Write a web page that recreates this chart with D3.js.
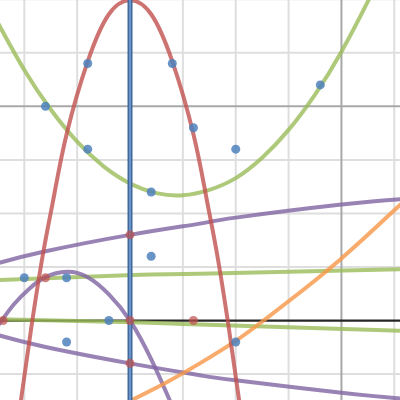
<!DOCTYPE html>
<html><head><meta charset="utf-8">
<script src="https://cdn.jsdelivr.net/npm/d3@7"></script>
<style>html,body{margin:0;padding:0;background:#fff;overflow:hidden}svg{display:block}</style>
</head><body>
<svg id="c" width="400" height="400"></svg>
<script>
// Grid ticks
const minorX = [-1.0,-0.5,0.5,1.0,1.5,2.5];
const majorX = [2.0];
const minorY = [3.0,2.5,1.5,1.0,0.5,-0.5];
const majorY = [2.0];

// Red curve
const redX = [-1.04,-0.93,-0.82,-0.72,-0.6,-0.4,-0.2,0,0.2,0.4,0.6,0.72,0.82,0.93,1.04];
const redY = [-0.80,-0.04,0.64,1.16,1.74,2.42,2.86,2.99,2.86,2.42,1.74,1.16,0.64,-0.04,-0.80];

// Big green curve
const greenX = [-1.25,-1.0,-0.75,-0.5,-0.25,0,0.25,0.5,0.75,1.0,1.25,1.5,1.75,2.0,2.25,2.35];
const greenY = [2.78,2.34,1.97,1.67,1.44,1.28,1.19,1.17,1.22,1.33,1.52,1.78,2.11,2.51,2.98,3.19];

// Green near-horizontal lines
const green2X = [-1.25,0.03,0.66,2.56];
const green2Y = [0.378,0.425,0.438,0.48];
const green3X = [-1.25,0.03,0.66,2.56];
const green3Y = [0.012,-0.015,-0.037,-0.095];

// Purple curves
const purpleUpX = [-1.25,-0.82,0,0.66,1.0,2.0,2.56];
const purpleUpY = [0.535,0.642,0.80,0.905,0.961,1.083,1.133];
const purpleLoX = [-1.25,-0.82,0,0.66,1.0,2.0,2.56];
const purpleLoY = [-0.135,-0.242,-0.40,-0.511,-0.558,-0.675,-0.728];
const purpleArchX = [-1.25,-1.1,-0.95,-0.8,-0.6,-0.4,-0.2,0,0.2,0.4];
const purpleArchY = [-0.05,0.15,0.30,0.405,0.455,0.405,0.245,0.0,-0.36,-0.80];

// Orange curve
const orangeX = [-0.02,0.33,0.66,1.0,1.25,1.5,2.0,2.5,2.6];
const orangeY = [-0.76,-0.585,-0.40,-0.19,-0.01,0.18,0.58,1.03,1.12];

// Points
const blueDotX = [-0.8,-0.4,0.4,-0.4,0.6,0.2,1.0,1.8,-1.0,-0.6,0.2,-0.2,-0.6,1.0];
const blueDotY = [2.0,2.4,2.4,1.6,1.8,1.2,1.6,2.2,0.4,0.4,0.6,0.0,-0.2,-0.2];
const redDotX = [-0.8,-1.2,0.6,0,0,0];
const redDotY = [0.4,0.0,0.0,0.0,0.8,-0.4];

const W = 400, H = 400;
const x = d3.scaleLinear().domain([-1.23, 2.554]).range([0, W]);
const y = d3.scaleLinear().domain([-0.742, 2.993]).range([H, 0]);
const svg = d3.select('#c');

function vlines(vals, color, w) {
  svg.append('g').selectAll('line').data(vals).join('line')
    .attr('x1', d => x(d)).attr('x2', d => x(d)).attr('y1', 0).attr('y2', H)
    .attr('stroke', color).attr('stroke-width', w);
}
function hlines(vals, color, w) {
  svg.append('g').selectAll('line').data(vals).join('line')
    .attr('y1', d => y(d)).attr('y2', d => y(d)).attr('x1', 0).attr('x2', W)
    .attr('stroke', color).attr('stroke-width', w);
}
vlines(minorX, '#dedede', 2);
hlines(minorY, '#dedede', 2);
vlines(majorX, '#a8a8a8', 2);
hlines(majorY, '#a8a8a8', 2);
// axes
hlines([0], '#262626', 2.2);
vlines([0], '#262626', 2.2);

const line = d3.line().x(d => x(d[0])).y(d => y(d[1])).curve(d3.curveNatural);
function curve(xs, ys, color, w, op) {
  svg.append('path').datum(xs.map((v, i) => [v, ys[i]]))
    .attr('d', line).attr('fill', 'none').attr('stroke', color)
    .attr('stroke-width', w).attr('stroke-opacity', op)
    .attr('stroke-linecap', 'round').attr('stroke-linejoin', 'round');
}
curve(greenX, greenY, '#9bbb59', 4, 0.8);
curve(green2X, green2Y, '#9bbb59', 4, 0.8);
curve(green3X, green3Y, '#9bbb59', 4, 0.8);
curve(purpleUpX, purpleUpY, '#8064a2', 4, 0.8);
curve(purpleLoX, purpleLoY, '#8064a2', 4, 0.8);
curve(purpleArchX, purpleArchY, '#8064a2', 4, 0.8);
curve(orangeX, orangeY, '#f79646', 4, 0.8);
curve(redX, redY, '#c0504d', 4, 0.8);

// blue vertical line at x = 0
vlines([0], '#42699c', 5);
vlines([0], '#6a94c9', 2);

svg.append('g').selectAll('circle').data(blueDotX.map((v, i) => [v, blueDotY[i]])).join('circle')
  .attr('cx', d => x(d[0])).attr('cy', d => y(d[1])).attr('r', 4.5)
  .attr('fill', '#4f81bd').attr('fill-opacity', 0.85);
svg.append('g').selectAll('circle').data(redDotX.map((v, i) => [v, redDotY[i]])).join('circle')
  .attr('cx', d => x(d[0])).attr('cy', d => y(d[1])).attr('r', 4.5)
  .attr('fill', '#c0504d').attr('fill-opacity', 0.7);
</script>
</body></html>
